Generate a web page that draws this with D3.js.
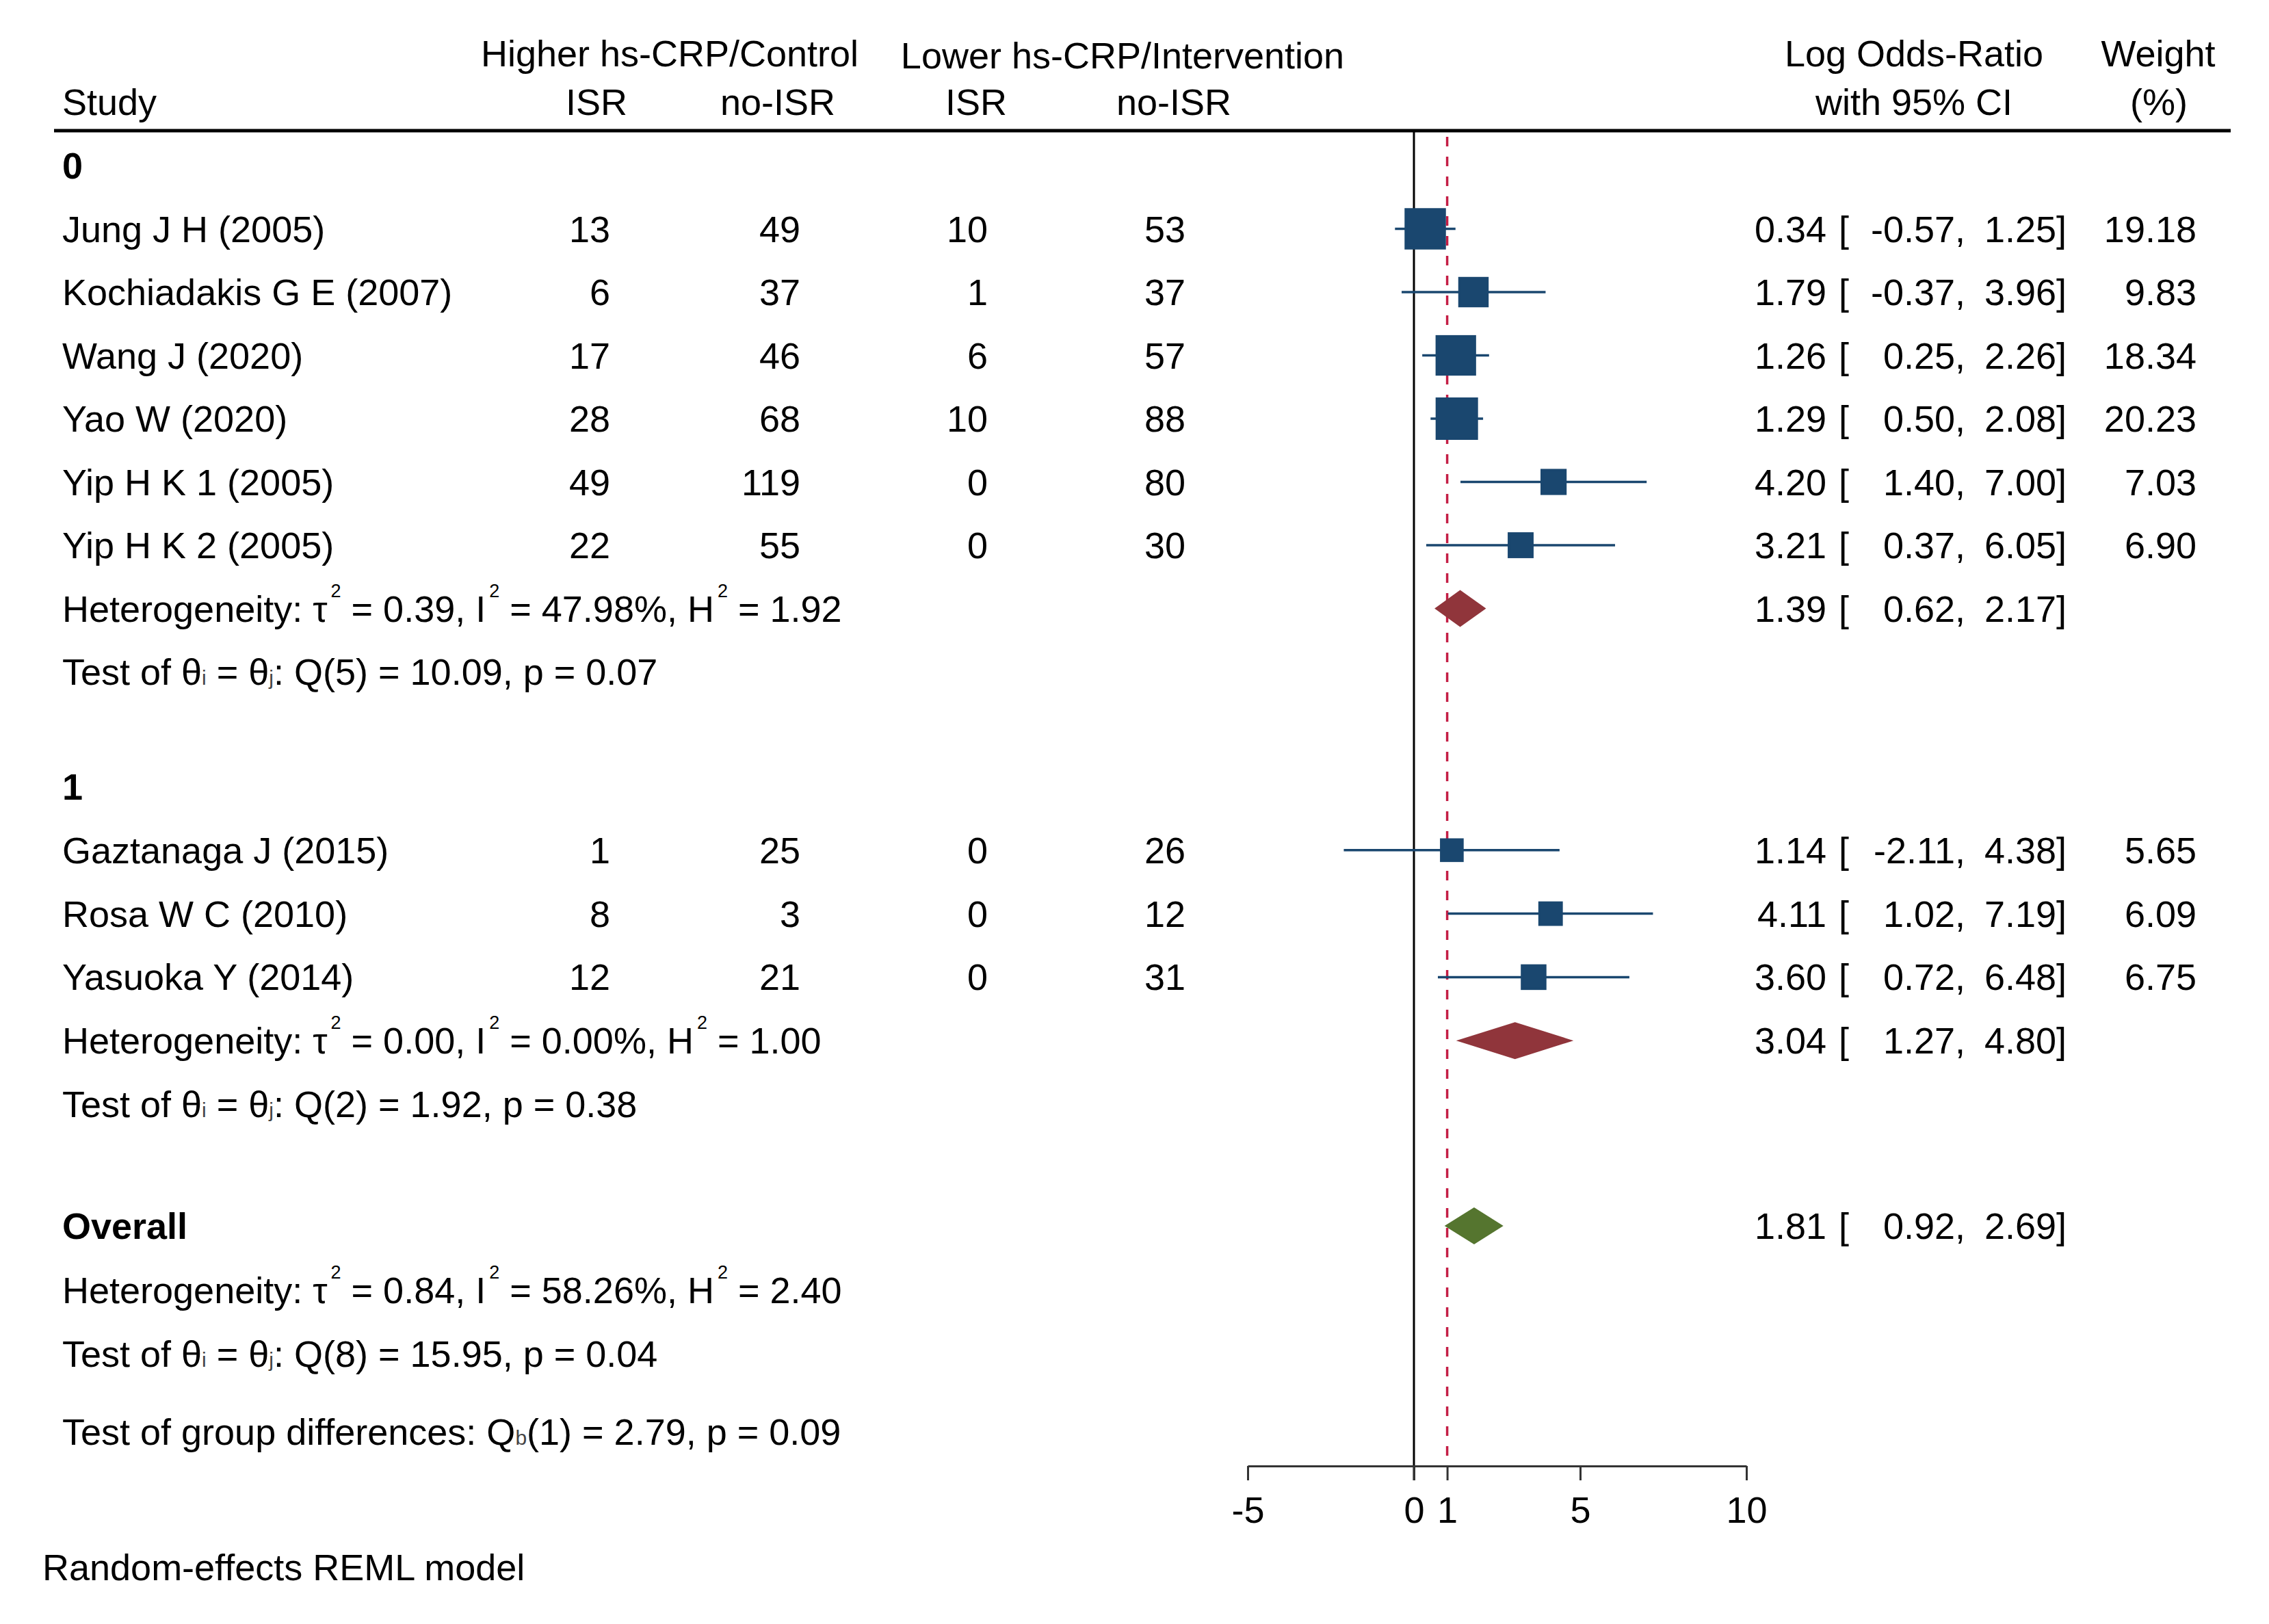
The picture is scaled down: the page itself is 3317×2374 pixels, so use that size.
<!DOCTYPE html>
<html lang="en">
<head>
<meta charset="UTF-8">
<title>Forest plot - hs-CRP and ISR</title>
<script src="https://cdnjs.cloudflare.com/ajax/libs/d3/7.8.5/d3.min.js"></script>
<style>
    body { margin: 0; background: #fff; }
    svg text { font-family: "Liberation Sans", Arial, sans-serif; font-size: 54px; fill: #000; }
    .bold { font-weight: bold; }
    .sub { font-size: 30px; fill: #444; }
    .sup { font-size: 27px; }
</style>
</head>
<body>
<div id="chart"></div>
<script>
    // study level data
    const studyNames = ["Jung J H (2005)", "Kochiadakis G E (2007)", "Wang J (2020)", "Yao W (2020)",
        "Yip H K 1 (2005)", "Yip H K 2 (2005)", "Gaztanaga J (2015)", "Rosa W C (2010)", "Yasuoka Y (2014)"];
    const studyGroup = [0, 0, 0, 0, 0, 0, 1, 1, 1];
    const isrControl = [13, 6, 17, 28, 49, 22, 1, 8, 12];
    const noIsrControl = [49, 37, 46, 68, 119, 55, 25, 3, 21];
    const isrInterv = [10, 1, 6, 10, 0, 0, 0, 0, 0];
    const noIsrInterv = [53, 37, 57, 88, 80, 30, 26, 12, 31];
    const logOR = [0.34, 1.79, 1.26, 1.29, 4.20, 3.21, 1.14, 4.11, 3.60];
    const ciLow = [-0.57, -0.37, 0.25, 0.50, 1.40, 0.37, -2.11, 1.02, 0.72];
    const ciHigh = [1.25, 3.96, 2.26, 2.08, 7.00, 6.05, 4.38, 7.19, 6.48];
    const weights = [19.18, 9.83, 18.34, 20.23, 7.03, 6.90, 5.65, 6.09, 6.75];

    // subgroup summaries
    const groupLabels = ["0", "1"];
    const groupEst = [1.39, 3.04];
    const groupLow = [0.62, 1.27];
    const groupHigh = [2.17, 4.80];
    const groupTau2 = ["0.39", "0.00"];
    const groupI2 = ["47.98", "0.00"];
    const groupH2 = ["1.92", "1.00"];
    const groupDf = [5, 2];
    const groupQ = ["10.09", "1.92"];
    const groupP = ["0.07", "0.38"];

    // overall
    const overallEst = 1.81, overallLow = 0.92, overallHigh = 2.69;
    const overallTau2 = "0.84", overallI2 = "58.26", overallH2 = "2.40";
    const overallDf = 8, overallQ = "15.95", overallP = "0.04";
    const diffDf = 1, diffQ = "2.79", diffP = "0.09";

    const xTicks = [-5, 0, 1, 5, 10];
    const refLine = 1;

    const width = 3317, height = 2374;
    const navy = "#1a476f", maroon = "#90353b", green = "#55752f", cranberry = "#c41e45";
    const f2 = d3.format(".2f");
    const axisY = 2143;

    const svg = d3.select("#chart").append("svg")
        .attr("width", width).attr("height", height);

    const x = d3.scaleLinear().domain([-5, 10]).range([1824, 2553]);
    // row number -> vertical centre
    const y = d3.scaleLinear()
        .domain([0, 8, 10, 15, 17, 19, 20])
        .range([242, 982, 1150, 1614, 1792, 1979, 2093]);
    const side = d3.scaleSqrt().domain([0, d3.max(weights)]).range([0, 58]);
    const base = r => y(r) + 19;

    // assign rows
    const rows = [];
    let r = 0;
    groupLabels.forEach((g, gi) => {
        rows.push({ type: "header", row: r++, g: gi });
        studyNames.forEach((s, i) => { if (studyGroup[i] === gi) rows.push({ type: "study", row: r++, i }); });
        rows.push({ type: "het", row: r++, g: gi });
        rows.push({ type: "test", row: r++, g: gi });
        r++;
    });
    const overallRow = r, overallHetRow = r + 1, overallTestRow = r + 2, diffRow = r + 3;

    // column headers
    const hdr = [
        { t: "Higher hs-CRP/Control", x: 979, y: 97, a: "middle" },
        { t: "Lower hs-CRP/Intervention", x: 1641, y: 100, a: "middle" },
        { t: "Log Odds-Ratio", x: 2798, y: 97, a: "middle" },
        { t: "Weight", x: 3155, y: 97, a: "middle" },
        { t: "Study", x: 91, y: 168, a: "start" },
        { t: "ISR", x: 872, y: 168, a: "middle" },
        { t: "no-ISR", x: 1137, y: 168, a: "middle" },
        { t: "ISR", x: 1427, y: 168, a: "middle" },
        { t: "no-ISR", x: 1716, y: 168, a: "middle" },
        { t: "with 95% CI", x: 2798, y: 168, a: "middle" },
        { t: "(%)", x: 3156, y: 168, a: "middle" }
    ];
    svg.selectAll("text.hdr").data(hdr).enter().append("text")
        .attr("class", "hdr")
        .attr("x", d => d.x).attr("y", d => d.y)
        .attr("text-anchor", d => d.a)
        .text(d => d.t);

    svg.append("line")
        .attr("x1", 79).attr("x2", 3261).attr("y1", 191).attr("y2", 191)
        .attr("stroke", "#000").attr("stroke-width", 5);

    // reference lines
    svg.append("line")
        .attr("x1", x(0)).attr("x2", x(0)).attr("y1", 191).attr("y2", axisY + 21)
        .attr("stroke", "#000").attr("stroke-width", 3);
    svg.append("line")
        .attr("x1", x(refLine)).attr("x2", x(refLine)).attr("y1", 200).attr("y2", axisY)
        .attr("stroke", cranberry).attr("stroke-width", 3.5)
        .attr("stroke-dasharray", "14,15");

    // axis
    svg.append("g")
        .attr("transform", `translate(0,${axisY})`)
        .call(d3.axisBottom(x).tickValues(xTicks).tickFormat(d3.format("d"))
            .tickSize(21).tickSizeOuter(0).tickPadding(24))
        .call(g => g.selectAll("path, line").attr("stroke", "#333").attr("stroke-width", 3))
        .call(g => g.selectAll("text").attr("font-size", null).attr("font-family", null)
            .style("font-size", "54px").text(d => d < 0 ? "-" + Math.abs(d) : d));

    function ciText(est, lo, hi, row) {
        const yy = base(row);
        svg.append("text").attr("x", 2670).attr("y", yy).attr("text-anchor", "end").text(f2(est));
        svg.append("text").attr("x", 2688).attr("y", yy).text("[");
        svg.append("text").attr("x", 2873).attr("y", yy).attr("text-anchor", "end").text(f2(lo).replace("−", "-") + ",");
        svg.append("text").attr("x", 3021).attr("y", yy).attr("text-anchor", "end").text(f2(hi) + "]");
    }

    function hetText(row, tau2, i2, h2) {
        const t = svg.append("text").attr("x", 91).attr("y", base(row));
        t.append("tspan").text("Heterogeneity: \u03c4");
        t.append("tspan").attr("class", "sup").attr("dx", 5).attr("dy", -36).text("2");
        t.append("tspan").attr("dy", 36).text(" = " + tau2 + ", I");
        t.append("tspan").attr("class", "sup").attr("dx", 5).attr("dy", -36).text("2");
        t.append("tspan").attr("dy", 36).text(" = " + i2 + "%, H");
        t.append("tspan").attr("class", "sup").attr("dx", 5).attr("dy", -36).text("2");
        t.append("tspan").attr("dy", 36).text(" = " + h2);
    }

    function testText(row, df, q, p) {
        const t = svg.append("text").attr("x", 91).attr("y", base(row));
        t.append("tspan").text("Test of \u03b8");
        t.append("tspan").attr("class", "sub").text("i");
        t.append("tspan").text(" = \u03b8");
        t.append("tspan").attr("class", "sub").text("j");
        t.append("tspan").text(": Q(" + df + ") = " + q + ", p = " + p);
    }

    function diamond(est, lo, hi, row, color) {
        const cy = y(row), h = 27;
        svg.append("path")
            .attr("d", `M${x(lo)},${cy}L${x(est)},${cy - h}L${x(hi)},${cy}L${x(est)},${cy + h}Z`)
            .attr("fill", color);
    }

    rows.forEach(d => {
        if (d.type === "header") {
            svg.append("text").attr("class", "bold").attr("x", 91).attr("y", base(d.row)).text(groupLabels[d.g]);
        } else if (d.type === "study") {
            const i = d.i, yy = base(d.row), cy = y(d.row);
            svg.append("text").attr("x", 91).attr("y", yy).text(studyNames[i]);
            [[isrControl, 892], [noIsrControl, 1170], [isrInterv, 1444], [noIsrInterv, 1733]].forEach(([arr, cx]) => {
                svg.append("text").attr("x", cx).attr("y", yy).attr("text-anchor", "end").text(arr[i]);
            });
            svg.append("line")
                .attr("x1", x(ciLow[i])).attr("x2", x(ciHigh[i]))
                .attr("y1", cy).attr("y2", cy)
                .attr("stroke", navy).attr("stroke-width", 3.5);
            const s = side(weights[i]);
            svg.append("rect")
                .attr("x", x(logOR[i]) - s / 2).attr("y", cy - s / 2)
                .attr("width", s).attr("height", s)
                .attr("fill", navy).attr("stroke", navy).attr("stroke-width", 4);
            ciText(logOR[i], ciLow[i], ciHigh[i], d.row);
            svg.append("text").attr("x", 3211).attr("y", yy).attr("text-anchor", "end").text(f2(weights[i]));
        } else if (d.type === "het") {
            hetText(d.row, groupTau2[d.g], groupI2[d.g], groupH2[d.g]);
            diamond(groupEst[d.g], groupLow[d.g], groupHigh[d.g], d.row, maroon);
            ciText(groupEst[d.g], groupLow[d.g], groupHigh[d.g], d.row);
        } else if (d.type === "test") {
            testText(d.row, groupDf[d.g], groupQ[d.g], groupP[d.g]);
        }
    });

    // overall
    svg.append("text").attr("class", "bold").attr("x", 91).attr("y", base(overallRow)).text("Overall");
    diamond(overallEst, overallLow, overallHigh, overallRow, green);
    ciText(overallEst, overallLow, overallHigh, overallRow);
    hetText(overallHetRow, overallTau2, overallI2, overallH2);
    testText(overallTestRow, overallDf, overallQ, overallP);

    const gd = svg.append("text").attr("x", 91).attr("y", base(diffRow));
    gd.append("tspan").text("Test of group differences: Q");
    gd.append("tspan").attr("class", "sub").text("b");
    gd.append("tspan").text("(" + diffDf + ") = " + diffQ + ", p = " + diffP);

    svg.append("text").attr("x", 62).attr("y", 2310).text("Random-effects REML model");
</script>
</body>
</html>
